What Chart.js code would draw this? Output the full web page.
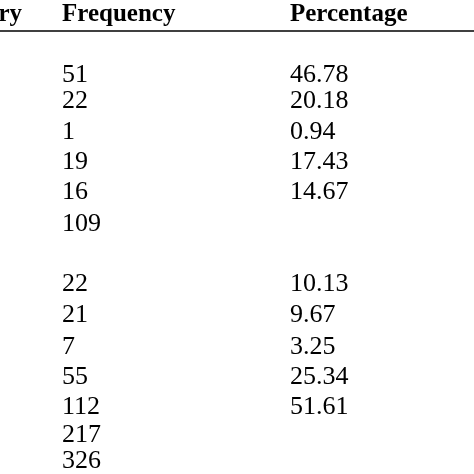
<!DOCTYPE html>
<html>
<head>
<meta charset="utf-8">
<script src="https://cdn.jsdelivr.net/npm/chart.js@4"></script>
<style>
  html, body { margin: 0; padding: 0; background: #fff; }
  #wrap { width: 474px; height: 474px; }
</style>
</head>
<body>
<div id="wrap"><canvas id="tbl"></canvas></div>
<script>
// table contents (blank = empty cell)
const headers = ['Category', 'Frequency', 'Percentage'];
const frequency = ['51', '22', '1', '19', '16', '109', '', '22', '21', '7', '55', '112', '217', '326'];
const percentage = ['46.78', '20.18', '0.94', '17.43', '14.67', '', '', '10.13', '9.67', '3.25', '25.34', '51.61', '', ''];
const rowY = [75, 101, 132, 162, 192, 224, 0, 284, 315, 347, 377, 407, 435, 461];

// column x positions on the value scale
const colX = [22, 62, 290];
const headerY = 15;
const ruleY = 31;

const cellPoints = [];
frequency.forEach((t, i) => { if (t) cellPoints.push({ x: colX[1], y: rowY[i], text: t }); });
percentage.forEach((t, i) => { if (t) cellPoints.push({ x: colX[2], y: rowY[i], text: t }); });

const tableText = {
    id: 'tableText',
    afterDatasetsDraw(chart) {
        const ctx = chart.ctx;
        const xs = chart.scales.x, ys = chart.scales.y;
        ctx.save();
        ctx.fillStyle = '#000';
        ctx.textBaseline = 'middle';

        ctx.font = 'bold 25px "Liberation Serif", "Times New Roman", serif';
        headers.forEach((h, i) => {
            ctx.textAlign = i === 0 ? 'right' : 'left';
            ctx.fillText(h, xs.getPixelForValue(colX[i]), ys.getPixelForValue(headerY));
        });

        ctx.strokeStyle = '#000';
        ctx.lineWidth = 1.3;
        ctx.beginPath();
        ctx.moveTo(xs.getPixelForValue(0), ys.getPixelForValue(ruleY));
        ctx.lineTo(xs.getPixelForValue(474), ys.getPixelForValue(ruleY));
        ctx.stroke();

        ctx.font = '26px "Liberation Serif", "Times New Roman", serif';
        ctx.textAlign = 'left';
        const meta = chart.getDatasetMeta(0);
        meta.data.forEach((pt, i) => {
            ctx.fillText(cellPoints[i].text, pt.x, pt.y);
        });
        ctx.restore();
    }
};

new Chart(document.getElementById('tbl'), {
    type: 'scatter',
    data: {
        datasets: [{
            data: cellPoints.map(p => ({ x: p.x, y: p.y })),
            pointRadius: 0
        }]
    },
    options: {
        responsive: true,
        maintainAspectRatio: false,
        animation: false,
        layout: { padding: 0 },
        plugins: { legend: { display: false }, tooltip: { enabled: false } },
        scales: {
            x: { type: 'linear', min: 0, max: 474, display: false },
            y: { type: 'linear', min: 0, max: 474, reverse: true, display: false }
        }
    },
    plugins: [tableText]
});
</script>
</body>
</html>
